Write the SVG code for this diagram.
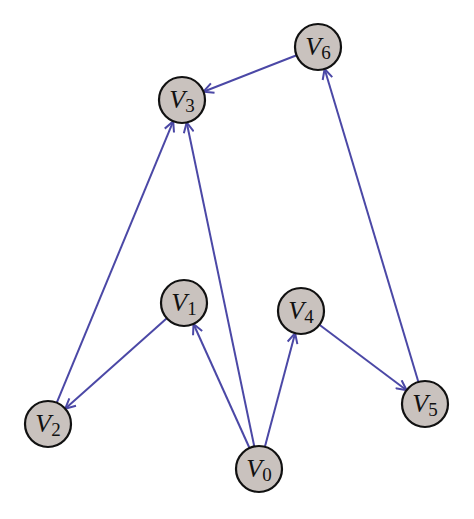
<svg xmlns="http://www.w3.org/2000/svg" width="474" height="519" viewBox="0 0 474 519">
<style>
.edge{stroke:#4b48a6;stroke-width:2;fill:none;marker-end:url(#arr)}
.node circle{fill:#c9c2be;stroke:#111;stroke-width:2.2}
.node text{font-family:"Liberation Serif",serif;font-size:26px;fill:#111;text-anchor:middle}
.v{font-style:italic}
.s{font-size:19px}
</style>
<defs>
<marker id="arr" viewBox="0 0 12 12" refX="11" refY="6" markerWidth="12" markerHeight="12" markerUnits="userSpaceOnUse" orient="auto">
<path d="M1,1 L11,6 L1,11" fill="none" stroke="#4b48a6" stroke-width="2"/>
</marker>
</defs>
<rect width="474" height="519" fill="#fff"/>
<g id="connectors">
<line class="edge" x1="296.6" y1="55.3" x2="203.4" y2="91.7"/>
<line class="edge" x1="56.8" y1="402.7" x2="173.2" y2="121.3"/>
<line class="edge" x1="254.3" y1="446.5" x2="186.7" y2="122.5"/>
<line class="edge" x1="249.5" y1="448" x2="193.5" y2="324"/>
<line class="edge" x1="264.9" y1="446.8" x2="295.1" y2="333.2"/>
<line class="edge" x1="166.8" y1="318.3" x2="65.2" y2="408.7"/>
<line class="edge" x1="319.4" y1="324.8" x2="406.6" y2="390.2"/>
<line class="edge" x1="418.4" y1="382" x2="324.6" y2="69"/>
</g>
<g id="V6" class="node"><circle cx="318" cy="47" r="23"/><text x="318" y="55"><tspan class="v">V</tspan><tspan class="s" dy="4">6</tspan></text></g>
<g id="V3" class="node"><circle cx="182" cy="100" r="23"/><text x="182" y="108"><tspan class="v">V</tspan><tspan class="s" dy="4">3</tspan></text></g>
<g id="V1" class="node"><circle cx="184" cy="303" r="23"/><text x="184" y="311"><tspan class="v">V</tspan><tspan class="s" dy="4">1</tspan></text></g>
<g id="V4" class="node"><circle cx="301" cy="311" r="23"/><text x="301" y="319"><tspan class="v">V</tspan><tspan class="s" dy="4">4</tspan></text></g>
<g id="V2" class="node"><circle cx="48" cy="424" r="23"/><text x="48" y="432"><tspan class="v">V</tspan><tspan class="s" dy="4">2</tspan></text></g>
<g id="V5" class="node"><circle cx="425" cy="404" r="23"/><text x="425" y="412"><tspan class="v">V</tspan><tspan class="s" dy="4">5</tspan></text></g>
<g id="V0" class="node"><circle cx="259" cy="469" r="23"/><text x="259" y="477"><tspan class="v">V</tspan><tspan class="s" dy="4">0</tspan></text></g>
</svg>
